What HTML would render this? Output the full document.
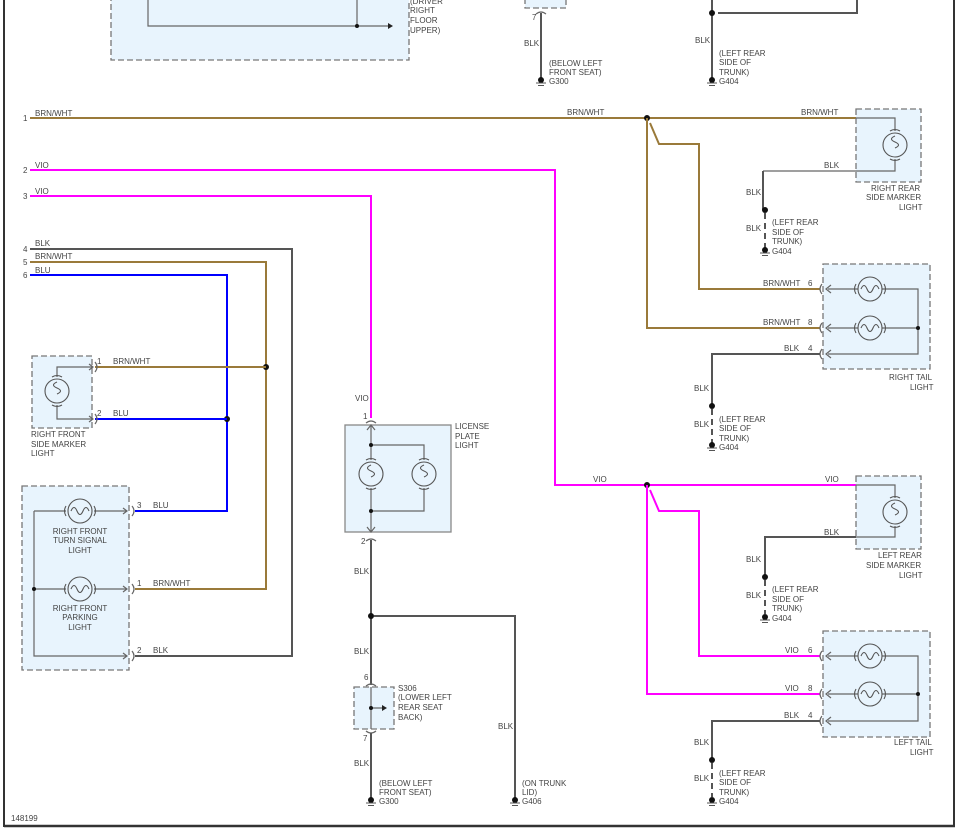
<!DOCTYPE html>
<html><head><meta charset="utf-8"><style>
html,body{margin:0;padding:0;background:#fff;}
svg{display:block;}
text{font-family:"Liberation Sans",sans-serif;font-size:8px;fill:#444;}
.b{fill:#e8f4fd;stroke:#777;stroke-width:1.3;stroke-dasharray:6,3;}
.w{fill:none;stroke-width:2;}
.br{stroke:#9a7a3a;}
.vi{stroke:#ff00ff;}
.bl{stroke:#0000ff;}
.bk{stroke:#555;}
.in{fill:none;stroke:#666;stroke-width:1.2;}
.bulb{fill:none;stroke:#555;stroke-width:1.1;}
</style></head><body>
<svg width="961" height="833" viewBox="0 0 961 833" xmlns="http://www.w3.org/2000/svg">
<defs>
<g id="gnd"><circle cx="0" cy="0" r="3" fill="#111"/><line x1="-5" y1="3" x2="5" y2="3" stroke="#555"/><line x1="-3" y1="5.5" x2="3" y2="5.5" stroke="#555"/></g>
<g id="hb"><circle cx="0" cy="0" r="12" class="bulb"/><path d="M-14,-5 Q-17,0 -14,5 M14,-5 Q17,0 14,5" class="bulb"/><path d="M-9,0 q3,-7 6,0 q3,7 6,0 q3,-7 6,0" class="bulb"/></g>
<g id="vb"><circle cx="0" cy="0" r="12" class="bulb"/><path d="M-5,-14 Q0,-17 5,-14 M-5,14 Q0,17 5,14" class="bulb"/><path d="M0,-9 q-7,3 0,6 q7,3 0,6" class="bulb"/></g>
</defs>
<!-- frame -->
<line x1="4" y1="0" x2="4" y2="827" stroke="#333" stroke-width="2"/>
<line x1="4" y1="826" x2="955" y2="826" stroke="#333" stroke-width="2.5"/>
<line x1="954" y1="0" x2="954" y2="827" stroke="#333" stroke-width="2"/>
<text x="11" y="821">148199</text>

<!-- top left box -->
<rect x="111" y="-5" width="298" height="65" class="b"/>
<path d="M148,-5 V26 H357" class="in"/><line x1="357" y1="-5" x2="357" y2="26" class="in"/>
<line x1="357" y1="26" x2="389" y2="26" class="in"/><path d="M388,23 L393,26 388,29Z" fill="#222"/>
<circle cx="357" cy="26" r="2" fill="#111"/>
<text x="410" y="4">(DRIVER</text><text x="410" y="13">RIGHT</text><text x="410" y="23">FLOOR</text><text x="410" y="33">UPPER)</text>

<!-- top middle -->
<rect x="525" y="-5" width="41" height="13" class="b"/>
<path d="M536,14 q5,-4 10,0" class="in"/>
<text x="532" y="20">7</text>
<line x1="541" y1="13" x2="541" y2="80" class="w bk"/>
<text x="524" y="46">BLK</text>
<text x="549" y="66">(BELOW LEFT</text><text x="549" y="75">FRONT SEAT)</text>
<use href="#gnd" x="541" y="80"/><text x="549" y="84">G300</text>

<!-- top right -->
<line x1="712" y1="0" x2="712" y2="80" class="w bk"/>
<path d="M718,13 H857 V0" class="w bk"/>
<circle cx="712" cy="13" r="3" fill="#111"/>
<text x="695" y="43">BLK</text>
<text x="719" y="56">(LEFT REAR</text><text x="719" y="65">SIDE OF</text><text x="719" y="75">TRUNK)</text>
<use href="#gnd" x="712" y="80"/><text x="719" y="84">G404</text>

<!-- wire 1 BRN/WHT -->
<text x="23" y="121">1</text><text x="35" y="116">BRN/WHT</text>
<line x1="30" y1="118" x2="895" y2="118" class="w br"/>
<text x="567" y="115">BRN/WHT</text><text x="801" y="115">BRN/WHT</text>
<circle cx="647" cy="118" r="3" fill="#111"/>
<path d="M647,118 V328 H820" class="w br"/>
<path d="M650,123 L659,144 H699 V289 H820" class="w br"/>

<!-- right rear side marker -->
<rect x="856" y="109" width="65" height="73" class="b"/>
<path d="M856,118 H895 V131 M895,159 V171 H763" class="in"/>
<use href="#vb" x="895" y="145"/>
<path d="M763,171 V210" class="w bk"/>
<text x="824" y="168">BLK</text>
<text x="871" y="191">RIGHT REAR</text><text x="866" y="200">SIDE MARKER</text><text x="899" y="210">LIGHT</text>
<text x="746" y="195">BLK</text>
<circle cx="765" cy="210" r="3" fill="#111"/>
<line x1="765" y1="213" x2="765" y2="248" stroke="#555" stroke-width="2" stroke-dasharray="6,4"/>
<text x="746" y="231">BLK</text>
<text x="772" y="225">(LEFT REAR</text><text x="772" y="235">SIDE OF</text><text x="772" y="244">TRUNK)</text>
<use href="#gnd" x="765" y="250"/><text x="772" y="254">G404</text>

<!-- right tail light -->
<rect x="823" y="264" width="107" height="105" class="b"/>
<path d="M828,289 H858 M882,289 H918 V354 H828 M828,328 H858 M882,328 H918" class="in"/>
<path d="M831,285 L826,289 831,293 M831,324 L826,328 831,332 M831,350 L826,354 831,358" class="in"/>
<path d="M822,284 q-4,5 0,10 M822,323 q-4,5 0,10 M822,349 q-4,5 0,10" class="in"/>
<circle cx="918" cy="328" r="2" fill="#111"/>
<use href="#hb" x="870" y="289"/><use href="#hb" x="870" y="328"/>
<text x="763" y="286">BRN/WHT</text><text x="808" y="286">6</text>
<text x="763" y="325">BRN/WHT</text><text x="808" y="325">8</text>
<text x="784" y="351">BLK</text><text x="808" y="351">4</text>
<path d="M820,354 H712 V405" class="w bk"/>
<text x="889" y="380">RIGHT TAIL</text><text x="910" y="390">LIGHT</text>
<text x="694" y="391">BLK</text>
<circle cx="712" cy="406" r="3" fill="#111"/>
<line x1="712" y1="409" x2="712" y2="443" stroke="#555" stroke-width="2" stroke-dasharray="6,4"/>
<text x="694" y="427">BLK</text>
<text x="719" y="422">(LEFT REAR</text><text x="719" y="431">SIDE OF</text><text x="719" y="441">TRUNK)</text>
<use href="#gnd" x="712" y="445"/><text x="719" y="450">G404</text>

<!-- wire 2 VIO -->
<text x="23" y="173">2</text><text x="35" y="168">VIO</text>
<path d="M30,170 H555 V485 H895" class="w vi"/>
<text x="593" y="482">VIO</text><text x="825" y="482">VIO</text>
<circle cx="647" cy="485" r="3" fill="#111"/>
<path d="M647,485 V694 H820" class="w vi"/>
<path d="M650,490 L659,511 H699 V656 H820" class="w vi"/>

<!-- left rear side marker -->
<rect x="856" y="476" width="65" height="73" class="b"/>
<path d="M856,485 H895 V498 M895,526 V537 H765 V577" class="in"/>
<path d="M856,537 H765 V577" class="w bk"/>
<use href="#vb" x="895" y="512"/>
<text x="824" y="535">BLK</text>
<text x="878" y="558">LEFT REAR</text><text x="866" y="568">SIDE MARKER</text><text x="899" y="578">LIGHT</text>
<text x="746" y="562">BLK</text>
<circle cx="765" cy="577" r="3" fill="#111"/>
<line x1="765" y1="580" x2="765" y2="614" stroke="#555" stroke-width="2" stroke-dasharray="6,4"/>
<text x="746" y="598">BLK</text>
<text x="772" y="592">(LEFT REAR</text><text x="772" y="602">SIDE OF</text><text x="772" y="611">TRUNK)</text>
<use href="#gnd" x="765" y="617"/><text x="772" y="621">G404</text>

<!-- left tail light -->
<rect x="823" y="631" width="107" height="106" class="b"/>
<path d="M828,656 H858 M882,656 H918 V721 H828 M828,694 H858 M882,694 H918" class="in"/>
<path d="M831,652 L826,656 831,660 M831,690 L826,694 831,698 M831,717 L826,721 831,725" class="in"/>
<path d="M822,651 q-4,5 0,10 M822,689 q-4,5 0,10 M822,716 q-4,5 0,10" class="in"/>
<circle cx="918" cy="694" r="2" fill="#111"/>
<use href="#hb" x="870" y="656"/><use href="#hb" x="870" y="694"/>
<text x="785" y="653">VIO</text><text x="808" y="653">6</text>
<text x="785" y="691">VIO</text><text x="808" y="691">8</text>
<text x="784" y="718">BLK</text><text x="808" y="718">4</text>
<path d="M820,721 H712 V760" class="w bk"/>
<text x="894" y="745">LEFT TAIL</text><text x="910" y="755">LIGHT</text>
<text x="694" y="745">BLK</text>
<circle cx="712" cy="760" r="3" fill="#111"/>
<line x1="712" y1="763" x2="712" y2="797" stroke="#555" stroke-width="2" stroke-dasharray="6,4"/>
<text x="694" y="781">BLK</text>
<text x="719" y="776">(LEFT REAR</text><text x="719" y="785">SIDE OF</text><text x="719" y="795">TRUNK)</text>
<use href="#gnd" x="712" y="800"/><text x="719" y="804">G404</text>

<!-- wire 3 VIO to license -->
<text x="23" y="199">3</text><text x="35" y="194">VIO</text>
<path d="M30,196 H371 V418" class="w vi"/>
<text x="355" y="401">VIO</text>
<text x="363" y="419">1</text>
<path d="M366,423 q5,-4 10,0 M366,541 q5,-4 10,0" class="in"/>
<rect x="345" y="425" width="106" height="107" fill="#e8f4fd" stroke="#888" stroke-width="1.3"/>
<path d="M371,425 V460 M371,488 V532 M371,445 H424 V460 M424,488 V511 H371" class="in"/>
<path d="M367,430 L371,425 375,430 M367,527 L371,532 375,527" class="in"/>
<circle cx="371" cy="445" r="2" fill="#111"/><circle cx="371" cy="511" r="2" fill="#111"/>
<use href="#vb" x="371" y="474"/><use href="#vb" x="424" y="474"/>
<text x="455" y="429">LICENSE</text><text x="455" y="439">PLATE</text><text x="455" y="448">LIGHT</text>
<text x="361" y="544">2</text>
<line x1="371" y1="540" x2="371" y2="685" class="w bk"/>
<text x="354" y="574">BLK</text>
<circle cx="371" cy="616" r="3" fill="#111"/>
<path d="M374,616 H515 V800" class="w bk"/>
<text x="498" y="729">BLK</text>
<text x="522" y="786">(ON TRUNK</text><text x="522" y="795">LID)</text>
<use href="#gnd" x="515" y="800"/><text x="522" y="804">G406</text>
<text x="354" y="654">BLK</text>
<text x="364" y="680">6</text>
<path d="M366,686 q5,-4 10,0 M366,731 q5,4 10,0" class="in"/>
<rect x="354" y="687" width="40" height="42" class="b"/>
<path d="M371,687 V729 M371,708 H383" class="in"/>
<path d="M382,705 L387,708 382,711Z" fill="#222"/><circle cx="371" cy="708" r="2" fill="#111"/>
<text x="398" y="691">S306</text><text x="398" y="700">(LOWER LEFT</text><text x="398" y="710">REAR SEAT</text><text x="398" y="720">BACK)</text>
<text x="363" y="741">7</text>
<line x1="371" y1="733" x2="371" y2="800" class="w bk"/>
<text x="354" y="766">BLK</text>
<text x="379" y="786">(BELOW LEFT</text><text x="379" y="795">FRONT SEAT)</text>
<use href="#gnd" x="371" y="800"/><text x="379" y="804">G300</text>

<!-- wires 4,5,6 -->
<text x="23" y="252">4</text><text x="35" y="246">BLK</text>
<path d="M30,249 H292 V656 H135" class="w bk"/>
<text x="23" y="265">5</text><text x="35" y="259">BRN/WHT</text>
<path d="M30,262 H266 V589 H135" class="w br"/>
<text x="23" y="278">6</text><text x="35" y="273">BLU</text>
<path d="M30,275 H227 V511 H135" class="w bl"/>
<circle cx="266" cy="367" r="3" fill="#111"/>
<path d="M266,367 H95" class="w br"/>
<circle cx="227" cy="419" r="3" fill="#111"/>
<path d="M227,419 H95" class="w bl"/>
<text x="97" y="364">1</text><text x="113" y="364">BRN/WHT</text>
<text x="97" y="416">2</text><text x="113" y="416">BLU</text>

<!-- right front side marker -->
<rect x="32" y="356" width="60" height="72" class="b"/>
<path d="M92,367 H57 V377 M57,405 V419 H92" class="in"/>
<path d="M89,364 L93,367 89,370 M89,416 L93,419 89,422 M95,362 q4,5 0,10 M95,414 q4,5 0,10" class="in"/>
<use href="#vb" x="57" y="391"/>
<text x="31" y="437">RIGHT FRONT</text><text x="31" y="447">SIDE MARKER</text><text x="31" y="456">LIGHT</text>

<!-- right front lamps -->
<rect x="22" y="486" width="107" height="184" class="b"/>
<path d="M34,511 V656 H127 M34,511 H66 M94,511 H127 M34,589 H66 M94,589 H127" class="in"/>
<path d="M123,508 L127,511 123,514 M123,586 L127,589 123,592 M123,653 L127,656 123,659 M132,506 q4,5 0,10 M132,584 q4,5 0,10 M132,651 q4,5 0,10" class="in"/>
<circle cx="34" cy="589" r="2" fill="#111"/>
<use href="#hb" x="80" y="511"/><use href="#hb" x="80" y="589"/>
<text x="80" y="534" text-anchor="middle">RIGHT FRONT</text><text x="80" y="543" text-anchor="middle">TURN SIGNAL</text><text x="80" y="553" text-anchor="middle">LIGHT</text>
<text x="80" y="611" text-anchor="middle">RIGHT FRONT</text><text x="80" y="620" text-anchor="middle">PARKING</text><text x="80" y="630" text-anchor="middle">LIGHT</text>
<text x="137" y="508">3</text><text x="153" y="508">BLU</text>
<text x="137" y="586">1</text><text x="153" y="586">BRN/WHT</text>
<text x="137" y="653">2</text><text x="153" y="653">BLK</text>
</svg>
</body></html>
